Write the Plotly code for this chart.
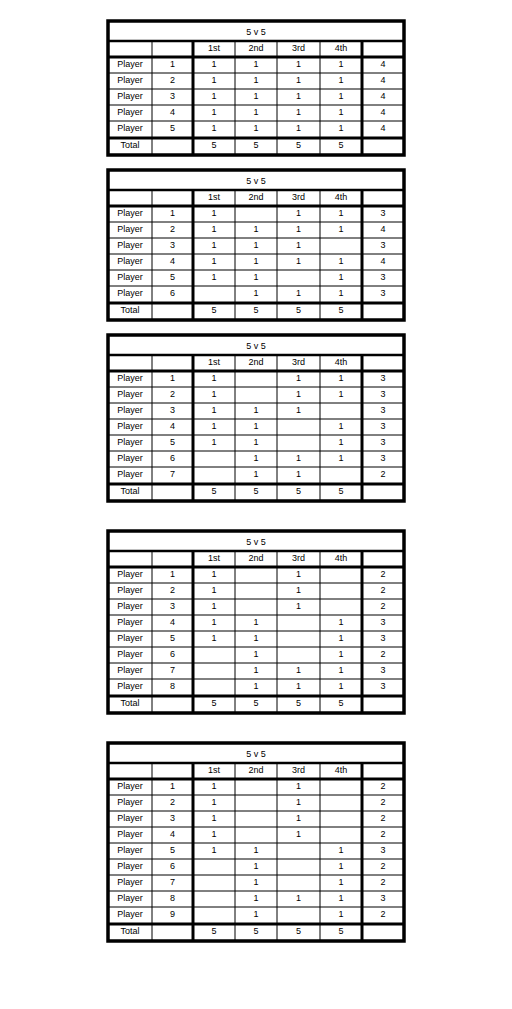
import plotly.graph_objects as go

# data for the five tables
title = "5 v 5"
quarters = ["1st", "2nd", "3rd", "4th"]
table_tops = [21, 170, 335, 531, 743]
table1 = ["1111", "1111", "1111", "1111", "1111"]
table2 = ["1.11", "1111", "111.", "1111", "11.1", ".111"]
table3 = ["1.11", "1.11", "111.", "11.1", "11.1", ".111", ".11."]
table4 = ["1.1.", "1.1.", "1.1.", "11.1", "11.1", ".1.1", ".111", ".111"]
table5 = ["1.1.", "1.1.", "1.1.", "1.1.", "11.1", ".1.1", ".1.1", ".111", ".1.1"]
totals1 = [4, 4, 4, 4, 4]
totals2 = [3, 4, 3, 4, 3, 3]
totals3 = [3, 3, 3, 3, 3, 3, 2]
totals4 = [2, 2, 2, 3, 3, 2, 3, 3]
totals5 = [2, 2, 2, 2, 3, 2, 2, 3, 2]
col_totals = [5, 5, 5, 5]
tables = [table1, table2, table3, table4, table5]
row_totals = [totals1, totals2, totals3, totals4, totals5]

# grid geometry (pixel coords of the window)
col_edges = [108, 152, 193, 235, 277, 320, 362, 404]
thick_cols = [193, 362]
row_h = 16
page_off = 8  # default body margin of the page

fig = go.Figure()
shapes = []
xs, ys, txt = [], [], []

def hline(y, x0, x1, w):
    shapes.append(dict(type="line", x0=x0, x1=x1, y0=y, y1=y, line=dict(color="black", width=w)))

def vline(x, y0, y1, w):
    shapes.append(dict(type="line", x0=x, x1=x, y0=y0, y1=y1, line=dict(color="black", width=w)))

centers = [(col_edges[i] + col_edges[i + 1]) / 2 for i in range(7)]

for top, rows, tots in zip(table_tops, tables, row_totals):
    n = len(rows)
    head_top = top + 4 + row_h
    play_top = head_top + row_h
    tot_top = play_top + n * row_h + 1
    bottom = tot_top + 17
    # text
    xs.append((col_edges[0] + col_edges[-1]) / 2); ys.append(top + 12); txt.append(title)
    for j, q in enumerate(quarters):
        xs.append(centers[2 + j]); ys.append(head_top + 8); txt.append(q)
    for i, (r, t) in enumerate(zip(rows, tots)):
        yc = play_top + i * row_h + 8
        xs += [centers[0], centers[1]]; ys += [yc, yc]; txt += ["Player", str(i + 1)]
        for j, c in enumerate(r):
            if c == "1":
                xs.append(centers[2 + j]); ys.append(yc); txt.append("1")
        xs.append(centers[6]); ys.append(yc); txt.append(str(t))
    xs.append(centers[0]); ys.append(tot_top + 8); txt.append("Total")
    for j, c in enumerate(col_totals):
        xs.append(centers[2 + j]); ys.append(tot_top + 8); txt.append(str(c))
    # lines
    for i in range(1, n):
        hline(play_top + i * row_h, col_edges[0], col_edges[-1], 1)
    hline(head_top, col_edges[0], col_edges[-1], 2.5)
    hline(play_top, col_edges[0], col_edges[-1], 3)
    hline(tot_top, col_edges[0], col_edges[-1], 3)
    for x in col_edges[1:-1]:
        vline(x, head_top, bottom, 3 if x in thick_cols else 1)
    shapes.append(dict(type="rect", x0=col_edges[0], x1=col_edges[-1], y0=top, y1=bottom,
                       line=dict(color="black", width=3.5)))

fig.add_trace(go.Scatter(x=xs, y=ys, text=txt, mode="text",
                         textfont=dict(family="Liberation Sans, Arial", size=9, color="black"),
                         hoverinfo="skip"))
fig.update_layout(width=512, height=1009, margin=dict(l=0, r=0, t=0, b=0),
                  plot_bgcolor="white", paper_bgcolor="white", showlegend=False, shapes=shapes)
fig.update_xaxes(range=[page_off, 512 + page_off], visible=False, fixedrange=True)
fig.update_yaxes(range=[1009 + page_off, page_off], visible=False, fixedrange=True)
fig.write_html("out.html")
